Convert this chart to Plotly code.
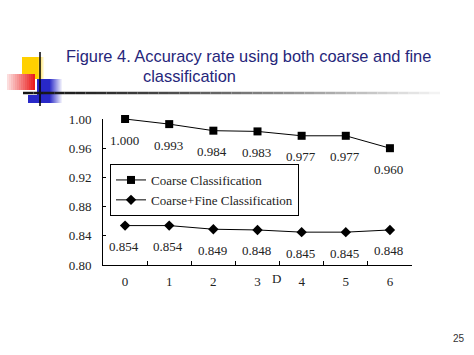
import plotly.graph_objects as go

# ---- data ----
D = ["0", "1", "2", "3", "4", "5", "6"]
coarse = [1.000, 0.993, 0.984, 0.983, 0.977, 0.977, 0.960]
fine = [0.854, 0.854, 0.849, 0.848, 0.845, 0.845, 0.848]
coarse_labels = ["1.000", "0.993", "0.984", "0.983", "0.977", "0.977", "0.960"]
fine_labels = ["0.854", "0.854", "0.849", "0.848", "0.845", "0.845", "0.848"]
series_names = ["Coarse Classification", "Coarse+Fine Classification"]
title_line1 = "Figure 4. Accuracy rate using both coarse and fine"
title_line2 = "classification"
page_no = "25"

W, H = 474, 355
L, R, T, B = 103, 412, 119, 265

def px(x):
    return (x - L) / (R - L)

def py(y):
    return (B - y) / (B - T)

SERIF = "Liberation Serif, DejaVu Serif, serif"
TITLE_FONT = "Liberation Sans, Arial, sans-serif"

fig = go.Figure()
fig.add_trace(go.Scatter(
    x=D, y=coarse, name=series_names[0], mode="lines+markers",
    line=dict(color="black", width=1),
    marker=dict(symbol="square", size=8, color="black"),
    cliponaxis=False,
))
fig.add_trace(go.Scatter(
    x=D, y=fine, name=series_names[1], mode="lines+markers",
    line=dict(color="black", width=1),
    marker=dict(symbol="diamond", size=8, color="black"),
    cliponaxis=False,
))

annotations = []
for xs, ys, labs in ((D, coarse, coarse_labels), (D, fine, fine_labels)):
    for xv, yv, lab in zip(xs, ys, labs):
        annotations.append(dict(
            x=xv, y=yv, xref="x", yref="y", text=lab, showarrow=False,
            yshift=-21, xshift=-1, font=dict(family=SERIF, size=13, color="#222"),
        ))

annotations.append(dict(x=px(276), y=py(288), xref="paper", yref="paper", text="D",
                        showarrow=False, font=dict(family=SERIF, size=13, color="#222")))
annotations.append(dict(x=px(64), y=py(56), xref="paper", yref="paper", text=title_line1,
                        xanchor="left", yanchor="middle", showarrow=False,
                        font=dict(family=TITLE_FONT, size=16.4, color="#26267a")))
annotations.append(dict(x=px(189), y=py(76), xref="paper", yref="paper", text=title_line2,
                        xanchor="center", yanchor="middle", showarrow=False,
                        font=dict(family=TITLE_FONT, size=16.4, color="#26267a")))
annotations.append(dict(x=px(459), y=py(338), xref="paper", yref="paper", text=page_no,
                        xanchor="center", yanchor="middle", showarrow=False,
                        font=dict(family="Liberation Sans, Arial, sans-serif", size=10, color="#333")))

shapes = []

def rect(x0, y0, x1, y1, color):
    shapes.append(dict(type="rect", xref="paper", yref="paper",
                       x0=px(x0), x1=px(x1), y0=py(y1), y1=py(y0),
                       fillcolor=color, line=dict(width=0), layer="above"))

def mix(c, t):
    # t=0 -> white, t=1 -> color
    return "rgb(%d,%d,%d)" % tuple(round(255 + (v - 255) * t) for v in c)

# yellow square
YEL = (255, 208, 0)
rect(22, 57, 38, 79, mix(YEL, 1))
for i in range(6):
    rect(38 + i, 57, 39 + i, 79, mix(YEL, 1 - (i + 1) / 7))
# red gradient (pale left -> red right)
RED = (235, 30, 30)
n = 14
for i in range(n):
    x0 = 7 + i * 2
    rect(x0, 74, x0 + 2, 90, mix(RED, 0.15 + 0.85 * (i / (n - 1))))
# blue block
BLU = (40, 40, 200)
rect(37, 79, 50, 95, mix(BLU, 1))
rect(28, 95, 50, 103, mix(BLU, 1))
for i in range(12):
    rect(50 + i, 79, 51 + i, 103, mix(BLU, 1 - (i + 1) / 13))
# vertical black line
shapes.append(dict(type="line", xref="paper", yref="paper", x0=px(40), x1=px(40),
                   y0=py(52), y1=py(106), line=dict(color="black", width=1.5), layer="above"))
# horizontal fading line
segs = 40
x_start, x_end = 23, 440
for i in range(segs):
    a = x_start + (x_end - x_start) * i / segs
    b = x_start + (x_end - x_start) * (i + 1) / segs
    t = i / segs
    g = round(20 + (250 - 20) * (t ** 1.3))
    shapes.append(dict(type="line", xref="paper", yref="paper", x0=px(a), x1=px(b),
                       y0=py(93), y1=py(93), line=dict(color="rgb(%d,%d,%d)" % (g, g, g), width=2.5),
                       layer="above"))

fig.update_layout(
    width=W, height=H,
    margin=dict(l=L, r=W - R, t=T, b=H - B, pad=0),
    paper_bgcolor="white", plot_bgcolor="white",
    showlegend=True,
    legend=dict(x=px(110), y=py(164), xanchor="left", yanchor="top",
                bordercolor="black", borderwidth=1, bgcolor="white",
                font=dict(family=SERIF, size=13, color="#222"),
                tracegroupgap=0, itemwidth=30),
    xaxis=dict(type="category", range=[-0.5, 6.5], showline=True, linecolor="black",
               linewidth=1, ticks="inside", tickson="boundaries", ticklen=4,
               tickcolor="black", showgrid=False, zeroline=False, ticklabelstandoff=4,
               tickfont=dict(family=SERIF, size=13, color="#222")),
    yaxis=dict(range=[0.80, 1.00], tickvals=[0.80, 0.84, 0.88, 0.92, 0.96, 1.00],
               tickformat=".2f", showline=True, linecolor="black", linewidth=1,
               ticks="inside", ticklen=3, tickcolor="black", showgrid=False,
               zeroline=False, ticklabelstandoff=8,
               tickfont=dict(family=SERIF, size=13, color="#222")),
    annotations=annotations, shapes=shapes,
)

fig.write_html("out.html")
